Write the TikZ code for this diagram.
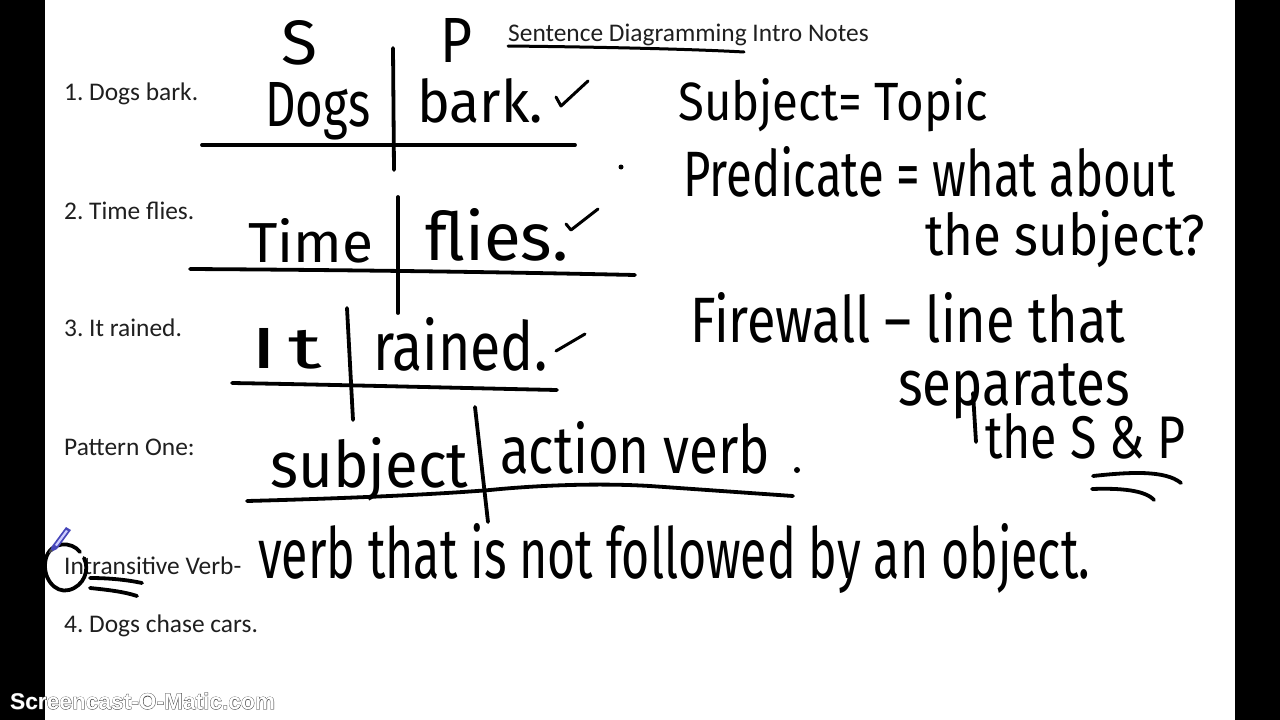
\documentclass[tikz,border=0pt]{standalone}
\usepackage{fontspec}
\usepackage{graphicx}
\setmainfont{Carlito}
\newfontfamily\handfont{Fira Sans}
\newfontfamily\markfont{Liberation Sans Bold}
\newfontfamily\markfat{Liberation Sans Bold}[FakeBold=3]
% handwritten word, fitted to width and height (in px)
\newcommand{\hand}[3]{\resizebox{#1pt}{#2pt}{\handfont #3}}
\frenchspacing

\begin{document}
\begin{tikzpicture}[x=1pt, y=-1pt,
    typed/.style={anchor=base west, inner sep=0pt, text=black!88,
      font=\fontsize{25.4}{30}\selectfont},
    hw/.style={anchor=base west, inner sep=0pt},
    ink/.style={line width=3.8pt, line cap=round, line join=round},
    tick/.style={line width=3pt, line cap=round, line join=round},
    wmark/.style={anchor=west, inner sep=0pt}]
  \useasboundingbox (0,0) rectangle (1280,720);
  \fill[white] (0,0) rectangle (1280,720);
  \fill[black] (0,0) rectangle (45,720);
  \fill[black] (1235,0) rectangle (1280,720);

  % typed notes
  \node[typed] (title) at (508,41) {Sentence Diagramming Intro Notes};
  \node[typed] (lblone) at (64,100) {1. Dogs bark.};
  \node[typed] (lbltwo) at (64,219) {2. Time flies.};
  \node[typed] (lblthree) at (64,336) {3. It rained.};
  \node[typed] (lblpattern) at (64,455) {Pattern One:};
  \node[typed] (lblintrans) at (64,574) {Intransitive Verb-};
  \node[typed] (lblfour) at (64,632) {4. Dogs chase cars.};
  \draw[ink, line width=3pt] (508,46) .. controls (600,47) and (690,49) .. (744,52);

  % S | P heading
  \node[hw] (hs) at (281,64) {\hand{36}{44}{S}};
  \node[hw] (hp) at (440,62) {\hand{32}{44}{P}};

  % 1. Dogs bark.
  \node[hw] (dogs) at (265,126) {\hand{105}{44}{Dogs}};
  \node[hw] (bark) at (417,122) {\hand{126}{44}{bark.}};
  \draw[ink] (393,48) -- (394,170);
  \draw[ink] (202,145) -- (575,145);
  \draw[tick] (556,97) -- (561,106) -- (588,81);
  \fill (621,167) circle (2.5);

  % 2. Time flies.
  \node[hw] (time) at (248,262) {\hand{125}{44}{Time}};
  \node[hw] (flies) at (425,260) {\hand{143}{52}{flies.}};
  \draw[ink] (398,197) -- (398,313);
  \draw[ink] (190,269) .. controls (350,270) and (500,272) .. (635,275);
  \draw[tick] (566,224) -- (571,230) -- (598,209);

  % 3. It rained.
  \node[hw] (it) at (250,368) {\hand{72}{40}{I\kern0.12em t}};
  \node[hw] (rained) at (373,370) {\hand{174}{53}{rained.}};
  \draw[ink] (347,308) -- (353,420);
  \draw[ink] (232,383) .. controls (350,385) and (460,388) .. (557,390);
  \draw[tick] (556,351) -- (585,334);

  % Pattern One
  \node[hw] (subj) at (270,487) {\hand{198}{50}{subject}};
  \node[hw] (actverb) at (500,473) {\hand{270}{52}{action verb}};
  \draw[ink] (475,407) -- (488,522);
  \draw[ink] (247,501) .. controls (360,498) and (440,494) .. (490,490)
    .. controls (540,485) and (600,483) .. (650,486) -- (793,496);
  \fill (797,470) circle (3);

  % definitions
  \node[hw] (subjtopic) at (678,120) {\hand{310}{42}{Subject= Topic}};
  \node[hw] (predicate) at (683,196) {\hand{492}{50}{Predicate = what about}};
  \node[hw] (thesubj) at (925,255) {\hand{280}{45}{the subject?}};
  \node[hw] (firewall) at (690,342) {\hand{435}{50}{Firewall – line that}};
  \node[hw] (separates) at (898,405) {\hand{232}{42}{separates}};
  \node[hw] (thesp) at (985,458) {\hand{200}{45}{the S \& P}};
  \draw[ink] (973,393) -- (976,442);
  \draw[ink] (1093,476) .. controls (1130,472) and (1165,470) .. (1181,483);
  \draw[ink] (1092,489) .. controls (1120,488) and (1145,490) .. (1154,500);

  % intransitive verb
  \node[hw] (verbdef) at (258,578) {\hand{832}{55}{verb that is not followed by an object.}};
  \draw[ink] (80,552) .. controls (72,541) and (51,541) .. (46,558)
    .. controls (41,577) and (55,594) .. (69,590)
    .. controls (84,586) and (90,570) .. (84,558);
  \draw[ink] (90,578) .. controls (110,578) and (128,580) .. (142,583);
  \draw[ink] (90,588) .. controls (110,590) and (125,592) .. (137,596);

  % pen cursor
  \fill[blue!45!gray] (49,553) -- (52,546) -- (66,527) -- (71,530) -- (57,549) -- cycle;
  \fill[white!80!blue] (55,545) -- (66,530) -- (68,531) -- (57,546) -- cycle;
  \fill[black!70] (49,553) -- (50,549) -- (53,551) -- cycle;

  % watermark, white on a fattened dark copy
  \node[wmark, text=black!75, font=\markfat\fontsize{22.7}{26}\selectfont] (wmshade) at (10,701) {Screencast-O-Matic.com};
  \node[wmark, text=white, font=\markfont\fontsize{22.7}{26}\selectfont] (watermark) at (10,701) {Screencast-O-Matic.com};
\end{tikzpicture}
\end{document}
